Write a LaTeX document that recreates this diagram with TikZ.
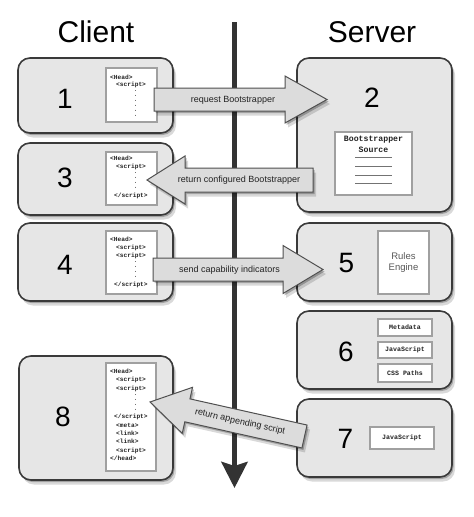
\documentclass[tikz,border=0pt]{standalone}
\usepackage{fontspec}
\setmainfont{Liberation Sans}
\newfontfamily\codefont{Liberation Mono}
\usetikzlibrary{shadows,arrows.meta}
\definecolor{boxfill}{HTML}{E6E6E6}
\definecolor{boxedge}{HTML}{3A3A3A}
\definecolor{arrfill}{HTML}{DCDCDC}
\definecolor{arredge}{HTML}{505050}
\definecolor{docedge}{HTML}{A0A0A0}
\definecolor{axiscol}{HTML}{333333}
\definecolor{ink}{HTML}{222222}
\newcommand\codeln[4]{\node[codetxt] (#1) at (#2,#3) {#4};}
\newcommand\blockarrow[6]{%
  \draw[blockarr, shift={(#1)}, rotate=#2] (0,-#4) -- ({#3-#6},-#4) -- ({#3-#6},-#5) -- (#3,0) -- ({#3-#6},#5) -- ({#3-#6},#4) -- (0,#4) -- cycle;}
\tikzset{
  boxshadow/.style={drop shadow={shadow xshift=1.5pt, shadow yshift=-2pt, opacity=.25, fill=black},
                    drop shadow={shadow xshift=3pt, shadow yshift=-4.5pt, opacity=.15, fill=black}},
  bigbox/.style={draw=boxedge, line width=1.6pt, fill=boxfill, rounded corners=12pt, inner sep=0, boxshadow},
  doc/.style={draw=docedge, line width=1.5pt, fill=white, inner sep=0},
  num/.style={font=\fontsize{28}{30}\selectfont, text=black, text height=20pt, text depth=0pt, inner sep=0},
  title/.style={font=\fontsize{30}{34}\selectfont, text=black, text height=21.5pt, text depth=0pt, inner sep=0},
  lbl/.style={font=\fontsize{9}{10}\selectfont, text=ink, text height=6.5pt, text depth=2pt, inner sep=0},
  codetxt/.style={anchor=west, inner sep=0, font=\codefont\bfseries\fontsize{6.2}{7}\selectfont, text=ink, text height=4pt, text depth=0pt},
  smallcode/.style={font=\codefont\bfseries\fontsize{6.6}{7}\selectfont, text=ink},
  codedots/.style={draw=black!55, line width=0.9pt, dash pattern=on 0.9pt off 4pt},
  blockarr/.style={draw=arredge, line width=1pt, fill=arrfill, line join=miter, boxshadow},
  docline/.style={draw=black!55, line width=0.9pt},
  axisline/.style={draw=axiscol, line width=5pt, -{Stealth[length=26pt, width=26pt, inset=4pt]}}
}
\begin{document}
\begin{tikzpicture}[x=1pt,y=-1pt]
\useasboundingbox (0,0) rectangle (474,517);
\fill[white] (0,0) rectangle (474,517);

% titles
\node[title] (client) at (96,31.5) {Client};
\node[title] (server) at (372,31.5) {Server};

% client boxes
\node[bigbox, minimum width=155pt, minimum height=75pt] (b1) at (95.5,95.5) {};
\node[bigbox, minimum width=155pt, minimum height=72pt] (b3) at (95.5,179) {};
\node[bigbox, minimum width=155pt, minimum height=78pt] (b4) at (95.5,262) {};
\node[bigbox, minimum width=154pt, minimum height=124pt] (b8) at (96,418) {};

% server boxes
\node[bigbox, minimum width=155pt, minimum height=154pt] (b2) at (374.5,135) {};
\node[bigbox, minimum width=155pt, minimum height=78pt] (b5) at (374.5,262) {};
\node[bigbox, minimum width=155pt, minimum height=78pt] (b6) at (374.5,350) {};
\node[bigbox, minimum width=155pt, minimum height=78pt] (b7) at (374.5,438) {};

% numbers
\node[num] (n1) at (65,98.5) {1};
\node[num] (n2) at (372,97.5) {2};
\node[num] (n3) at (65,177.5) {3};
\node[num] (n4) at (65,264) {4};
\node[num] (n5) at (346.5,262.5) {5};
\node[num] (n6) at (346,351) {6};
\node[num] (n7) at (345.5,438) {7};
\node[num] (n8) at (63,416) {8};

% client documents
\node[doc, minimum width=51pt, minimum height=54pt] (d1) at (131.5,95) {};
\node[doc, minimum width=51pt, minimum height=53pt] (d3) at (131.5,178.5) {};
\node[doc, minimum width=51pt, minimum height=63pt] (d4) at (131.5,262.5) {};
\node[doc, minimum width=50pt, minimum height=108pt] (d8) at (131,417) {};

\codeln{c1a}{110}{77}{<Head>}
\codeln{c1b}{116}{84.5}{<script>}
\draw[codedots] (135,90) -- (135,118);

\codeln{c3a}{110}{158}{<Head>}
\codeln{c3b}{116}{166}{<script>}
\draw[codedots] (135,172) -- (135,189);
\codeln{c3c}{114}{195}{</script>}

\codeln{c4a}{110}{239}{<Head>}
\codeln{c4b}{116}{247}{<script>}
\codeln{c4c}{116}{255}{<script>}
\draw[codedots] (135,261) -- (135,279);
\codeln{c4d}{114}{284}{</script>}

\codeln{c8a}{110}{371}{<Head>}
\codeln{c8b}{116}{379.5}{<script>}
\codeln{c8c}{116}{388}{<script>}
\draw[codedots] (135,394) -- (135,411);
\codeln{c8d}{114}{416.5}{</script>}
\codeln{c8e}{116}{425}{<meta>}
\codeln{c8f}{116}{433}{<link>}
\codeln{c8g}{116}{441.5}{<link>}
\codeln{c8h}{116}{450}{<script>}
\codeln{c8i}{110}{458.5}{</head>}

% server documents
\node[doc, minimum width=77pt, minimum height=63pt] (ds) at (373.5,163.5) {};
\node[smallcode, font=\codefont\bfseries\fontsize{8.2}{9}\selectfont, inner sep=0] (bs1) at (373.5,140) {Bootstrapper};
\node[smallcode, font=\codefont\bfseries\fontsize{8.2}{9}\selectfont, inner sep=0] (bs2) at (373.5,149.5) {Source};
\draw[docline] (355,157) -- (392,157);
\draw[docline] (355,166) -- (392,166);
\draw[docline] (355,175) -- (392,175);
\draw[docline] (355,183.5) -- (392,183.5);

\node[doc, minimum width=51pt, minimum height=63pt, align=center, text=black!65,
      font=\fontsize{9.5}{11}\selectfont] (re) at (403.5,262.5) {Rules\\Engine};
\node[doc, smallcode, minimum width=54pt, minimum height=17pt] (md) at (405,327.5) {Metadata};
\node[doc, smallcode, minimum width=54pt, minimum height=16pt] (js6) at (405,350) {JavaScript};
\node[doc, smallcode, minimum width=54pt, minimum height=18pt] (css) at (405,373) {CSS Paths};
\node[doc, smallcode, minimum width=64pt, minimum height=22pt] (js7) at (402,438) {JavaScript};

% time axis (behind the block arrows)
\coordinate (axtop) at (234.5,22);
\coordinate (axbot) at (234.5,488);
\draw[axisline] (axtop) -- (axbot);

% block arrows
\coordinate (a1t) at (154,99.5);
\coordinate (a1h) at (327,99.5);
\coordinate (a2t) at (313,180);
\coordinate (a2h) at (147,180);
\coordinate (a3t) at (153,269.5);
\coordinate (a3h) at (323,269.5);
\coordinate (a4t) at (304.5,436.5);
\coordinate (a4h) at (150,402);
\blockarrow{a1t}{0}{173}{11.5}{23.5}{42}
\blockarrow{a2t}{180}{166}{12}{24}{38}
\blockarrow{a3t}{0}{170}{11.5}{24}{40}
\blockarrow{a4t}{167.41}{158.3}{11.75}{23.6}{38.3}

\node[lbl] (l1) at (233,100) {request Bootstrapper};
\node[lbl] (l2) at (239,180) {return configured Bootstrapper};
\node[lbl] (l3) at (229.5,270) {send capability indicators};
\node[lbl, rotate=-12.59] (l4) at (240,422) {return appending script};
\end{tikzpicture}
\end{document}
